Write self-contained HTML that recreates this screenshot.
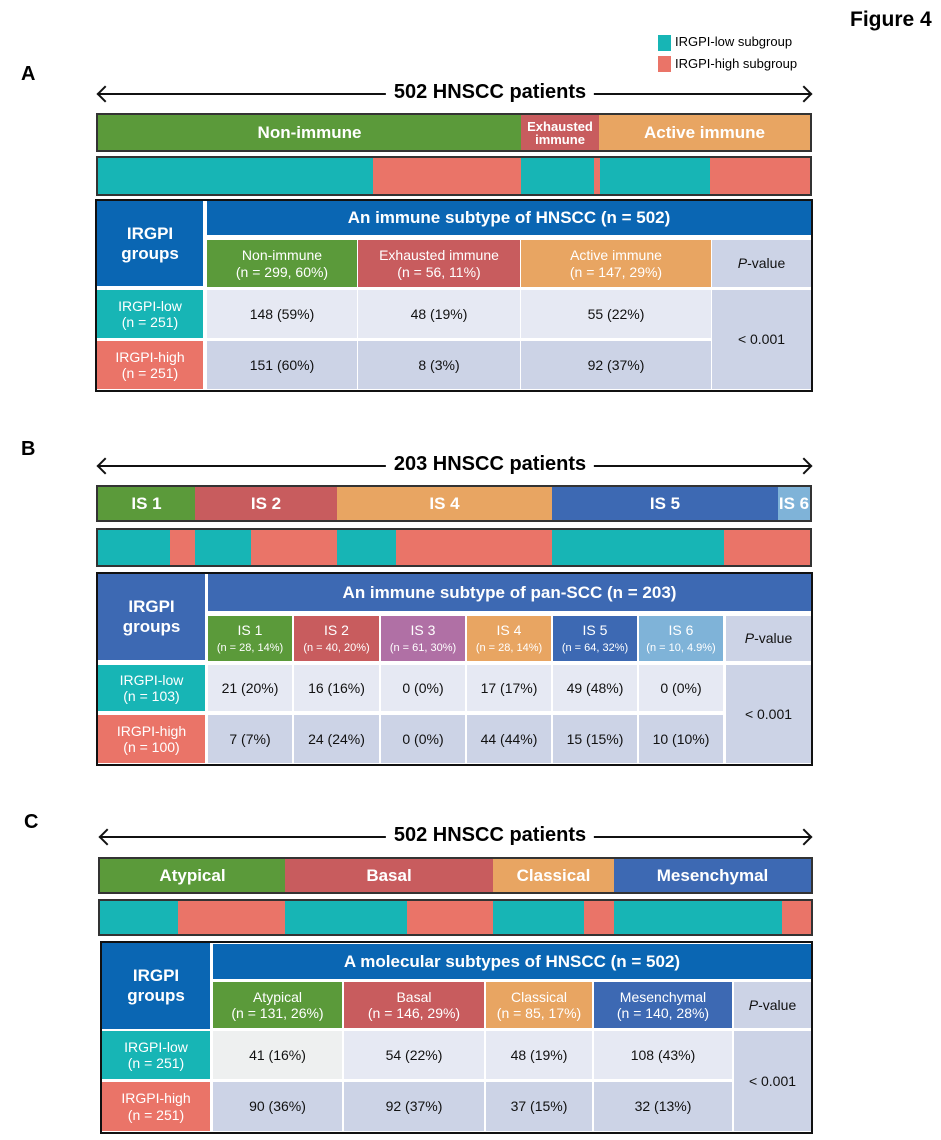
<!DOCTYPE html>
<html><head><meta charset="utf-8"><style>
body{margin:0;width:941px;height:1140px;background:#fff;position:relative;font-family:"Liberation Sans",Arial,sans-serif;overflow:hidden}
.b{position:absolute;display:flex;align-items:center;justify-content:center;text-align:center;box-sizing:border-box;line-height:1.15}
.w{color:#fff}
.bd{font-weight:bold;color:#fff;font-size:17px}
.s{font-size:14px}
.t{font-size:14px;color:#111}
.bar{position:absolute;box-sizing:border-box;border:2px solid #333}
.tb{position:absolute;border:2px solid #111;box-sizing:border-box;background:#fff}
.G{background:#5b9a3a}.R{background:#c85c5e}.O{background:#e8a562}.T{background:#17b5b5}.S{background:#ea7468}.B{background:#3d69b3}.L{background:#7fb3d8}.P{background:#b070a5}.D{background:#0a66b3}
.r1{background:#e6e9f3}.r2{background:#ccd3e6}
.line{position:absolute;height:2px;background:#111}
.lab{position:absolute;font-weight:bold;font-size:20px}
.ttl{position:absolute;font-weight:bold;font-size:20px;background:#fff;padding:0 8px;transform:translateX(-50%)}
.al,.ar{position:absolute;width:10px;height:10px;border-top:2px solid #111;border-left:2px solid #111}
.al{transform:rotate(-45deg)}.ar{transform:rotate(135deg)}
.sm{font-size:11px}
</style></head><body>
<div class="lab" style="left:850px;top:8px;font-size:21px">Figure 4</div>
<div style="position:absolute;left:658px;top:35px;width:13px;height:16px;background:#17b5b5"></div>
<div style="position:absolute;left:675px;top:34px;font-size:13px">IRGPI-low subgroup</div>
<div style="position:absolute;left:658px;top:56px;width:13px;height:16px;background:#ea7468"></div>
<div style="position:absolute;left:675px;top:56px;font-size:13px">IRGPI-high subgroup</div>

<!-- A -->
<div class="lab" style="left:21px;top:63px">A</div>
<div class="line" style="left:98px;top:93px;width:713px"></div>
<div class="al" style="left:99px;top:88px"></div><div class="ar" style="left:798px;top:88px"></div>
<div class="ttl" style="left:490px;top:81px">502 HNSCC patients</div>
<div class="bar" style="left:96px;top:113px;width:716px;height:39px"></div>
<div class="b G bd" style="left:98px;top:115px;width:423px;height:35px">Non-immune</div>
<div class="b R bd" style="left:521px;top:115px;width:78px;height:35px;font-size:13px;line-height:1">Exhausted<br>immune</div>
<div class="b O bd" style="left:599px;top:115px;width:211px;height:35px">Active immune</div>
<div class="bar" style="left:96px;top:156px;width:716px;height:40px"></div>
<div class="b T" style="left:98px;top:158px;width:275px;height:36px"></div>
<div class="b S" style="left:373px;top:158px;width:148px;height:36px"></div>
<div class="b T" style="left:521px;top:158px;width:73px;height:36px"></div>
<div class="b S" style="left:594px;top:158px;width:6px;height:36px"></div>
<div class="b T" style="left:600px;top:158px;width:110px;height:36px"></div>
<div class="b S" style="left:710px;top:158px;width:100px;height:36px"></div>
<div class="tb" style="left:95px;top:199px;width:718px;height:193px"></div>
<div class="b D bd" style="left:97px;top:201px;width:106px;height:85px">IRGPI<br>groups</div>
<div class="b D bd" style="left:207px;top:201px;width:604px;height:34px">An immune subtype of HNSCC (n = 502)</div>
<div class="b G w s" style="left:207px;top:240px;width:150px;height:47px">Non-immune<br>(n = 299, 60%)</div>
<div class="b R w s" style="left:358px;top:240px;width:162px;height:47px">Exhausted immune<br>(n = 56, 11%)</div>
<div class="b O w s" style="left:521px;top:240px;width:190px;height:47px">Active immune<br>(n = 147, 29%)</div>
<div class="b r2 t" style="left:712px;top:240px;width:99px;height:47px"><span><i>P</i>-value</span></div>
<div class="b T w s" style="left:97px;top:290px;width:106px;height:48px">IRGPI-low<br>(n = 251)</div>
<div class="b S w s" style="left:97px;top:341px;width:106px;height:48px">IRGPI-high<br>(n = 251)</div>
<div class="b r1 t" style="left:207px;top:290px;width:150px;height:48px">148 (59%)</div>
<div class="b r1 t" style="left:358px;top:290px;width:162px;height:48px">48 (19%)</div>
<div class="b r1 t" style="left:521px;top:290px;width:190px;height:48px">55 (22%)</div>
<div class="b r2 t" style="left:207px;top:341px;width:150px;height:48px">151 (60%)</div>
<div class="b r2 t" style="left:358px;top:341px;width:162px;height:48px">8 (3%)</div>
<div class="b r2 t" style="left:521px;top:341px;width:190px;height:48px">92 (37%)</div>
<div class="b r2 t" style="left:712px;top:290px;width:99px;height:99px">&lt; 0.001</div>

<!-- B -->
<div class="lab" style="left:21px;top:438px">B</div>
<div class="line" style="left:98px;top:465px;width:713px"></div>
<div class="al" style="left:99px;top:460px"></div><div class="ar" style="left:798px;top:460px"></div>
<div class="ttl" style="left:490px;top:453px">203 HNSCC patients</div>
<div class="bar" style="left:96px;top:485px;width:716px;height:37px"></div>
<div class="b G bd" style="left:98px;top:487px;width:97px;height:33px">IS 1</div>
<div class="b R bd" style="left:195px;top:487px;width:142px;height:33px">IS 2</div>
<div class="b O bd" style="left:337px;top:487px;width:215px;height:33px">IS 4</div>
<div class="b B bd" style="left:552px;top:487px;width:226px;height:33px">IS 5</div>
<div class="b L bd" style="left:778px;top:487px;width:32px;height:33px">IS 6</div>
<div class="bar" style="left:96px;top:528px;width:716px;height:39px"></div>
<div class="b T" style="left:98px;top:530px;width:72px;height:35px"></div>
<div class="b S" style="left:170px;top:530px;width:25px;height:35px"></div>
<div class="b T" style="left:195px;top:530px;width:56px;height:35px"></div>
<div class="b S" style="left:251px;top:530px;width:86px;height:35px"></div>
<div class="b T" style="left:337px;top:530px;width:59px;height:35px"></div>
<div class="b S" style="left:396px;top:530px;width:156px;height:35px"></div>
<div class="b T" style="left:552px;top:530px;width:172px;height:35px"></div>
<div class="b S" style="left:724px;top:530px;width:86px;height:35px"></div>
<div class="tb" style="left:96px;top:572px;width:717px;height:194px"></div>
<div class="b B bd" style="left:98px;top:574px;width:107px;height:86px">IRGPI<br>groups</div>
<div class="b B bd" style="left:208px;top:574px;width:603px;height:37px">An immune subtype of pan-SCC (n = 203)</div>
<div class="b G w s" style="left:208px;top:616px;width:84px;height:45px"><span>IS 1<br><span class="sm">(n = 28, 14%)</span></span></div>
<div class="b R w s" style="left:294px;top:616px;width:85px;height:45px"><span>IS 2<br><span class="sm">(n = 40, 20%)</span></span></div>
<div class="b P w s" style="left:381px;top:616px;width:84px;height:45px"><span>IS 3<br><span class="sm">(n = 61, 30%)</span></span></div>
<div class="b O w s" style="left:467px;top:616px;width:84px;height:45px"><span>IS 4<br><span class="sm">(n = 28, 14%)</span></span></div>
<div class="b B w s" style="left:553px;top:616px;width:84px;height:45px"><span>IS 5<br><span class="sm">(n = 64, 32%)</span></span></div>
<div class="b L w s" style="left:639px;top:616px;width:84px;height:45px"><span>IS 6<br><span class="sm">(n = 10, 4.9%)</span></span></div>
<div class="b r2 t" style="left:726px;top:616px;width:85px;height:45px"><span><i>P</i>-value</span></div>
<div class="b T w s" style="left:98px;top:665px;width:107px;height:46px">IRGPI-low<br>(n = 103)</div>
<div class="b S w s" style="left:98px;top:715px;width:107px;height:48px">IRGPI-high<br>(n = 100)</div>
<div class="b r1 t" style="left:208px;top:665px;width:84px;height:46px">21 (20%)</div>
<div class="b r1 t" style="left:294px;top:665px;width:85px;height:46px">16 (16%)</div>
<div class="b r1 t" style="left:381px;top:665px;width:84px;height:46px">0 (0%)</div>
<div class="b r1 t" style="left:467px;top:665px;width:84px;height:46px">17 (17%)</div>
<div class="b r1 t" style="left:553px;top:665px;width:84px;height:46px">49 (48%)</div>
<div class="b r1 t" style="left:639px;top:665px;width:84px;height:46px">0 (0%)</div>
<div class="b r2 t" style="left:208px;top:715px;width:84px;height:48px">7 (7%)</div>
<div class="b r2 t" style="left:294px;top:715px;width:85px;height:48px">24 (24%)</div>
<div class="b r2 t" style="left:381px;top:715px;width:84px;height:48px">0 (0%)</div>
<div class="b r2 t" style="left:467px;top:715px;width:84px;height:48px">44 (44%)</div>
<div class="b r2 t" style="left:553px;top:715px;width:84px;height:48px">15 (15%)</div>
<div class="b r2 t" style="left:639px;top:715px;width:84px;height:48px">10 (10%)</div>
<div class="b r2 t" style="left:726px;top:665px;width:85px;height:98px">&lt; 0.001</div>

<!-- C -->
<div class="lab" style="left:24px;top:811px">C</div>
<div class="line" style="left:100px;top:836px;width:711px"></div>
<div class="al" style="left:101px;top:831px"></div><div class="ar" style="left:798px;top:831px"></div>
<div class="ttl" style="left:490px;top:824px">502 HNSCC patients</div>
<div class="bar" style="left:98px;top:857px;width:715px;height:37px"></div>
<div class="b G bd" style="left:100px;top:859px;width:185px;height:33px">Atypical</div>
<div class="b R bd" style="left:285px;top:859px;width:208px;height:33px">Basal</div>
<div class="b O bd" style="left:493px;top:859px;width:121px;height:33px">Classical</div>
<div class="b B bd" style="left:614px;top:859px;width:197px;height:33px">Mesenchymal</div>
<div class="bar" style="left:98px;top:899px;width:715px;height:37px"></div>
<div class="b T" style="left:100px;top:901px;width:78px;height:33px"></div>
<div class="b S" style="left:178px;top:901px;width:107px;height:33px"></div>
<div class="b T" style="left:285px;top:901px;width:122px;height:33px"></div>
<div class="b S" style="left:407px;top:901px;width:86px;height:33px"></div>
<div class="b T" style="left:493px;top:901px;width:91px;height:33px"></div>
<div class="b S" style="left:584px;top:901px;width:30px;height:33px"></div>
<div class="b T" style="left:614px;top:901px;width:168px;height:33px"></div>
<div class="b S" style="left:782px;top:901px;width:29px;height:33px"></div>
<div class="tb" style="left:100px;top:941px;width:713px;height:193px"></div>
<div class="b D bd" style="left:102px;top:943px;width:108px;height:86px">IRGPI<br>groups</div>
<div class="b D bd" style="left:213px;top:944px;width:598px;height:35px">A molecular subtypes of HNSCC (n = 502)</div>
<div class="b G w s" style="left:213px;top:982px;width:129px;height:46px">Atypical<br>(n = 131, 26%)</div>
<div class="b R w s" style="left:344px;top:982px;width:140px;height:46px">Basal<br>(n = 146, 29%)</div>
<div class="b O w s" style="left:486px;top:982px;width:106px;height:46px">Classical<br>(n = 85, 17%)</div>
<div class="b B w s" style="left:594px;top:982px;width:138px;height:46px">Mesenchymal<br>(n = 140, 28%)</div>
<div class="b r2 t" style="left:734px;top:982px;width:77px;height:46px"><span><i>P</i>-value</span></div>
<div class="b T w s" style="left:102px;top:1031px;width:108px;height:48px">IRGPI-low<br>(n = 251)</div>
<div class="b S w s" style="left:102px;top:1082px;width:108px;height:49px">IRGPI-high<br>(n = 251)</div>
<div class="b t" style="left:213px;top:1031px;width:129px;height:48px;background:#eef0f0">41 (16%)</div>
<div class="b r1 t" style="left:344px;top:1031px;width:140px;height:48px">54 (22%)</div>
<div class="b r1 t" style="left:486px;top:1031px;width:106px;height:48px">48 (19%)</div>
<div class="b r1 t" style="left:594px;top:1031px;width:138px;height:48px">108 (43%)</div>
<div class="b r2 t" style="left:213px;top:1082px;width:129px;height:49px">90 (36%)</div>
<div class="b r2 t" style="left:344px;top:1082px;width:140px;height:49px">92 (37%)</div>
<div class="b r2 t" style="left:486px;top:1082px;width:106px;height:49px">37 (15%)</div>
<div class="b r2 t" style="left:594px;top:1082px;width:138px;height:49px">32 (13%)</div>
<div class="b r2 t" style="left:734px;top:1031px;width:77px;height:100px">&lt; 0.001</div>
</body></html>
